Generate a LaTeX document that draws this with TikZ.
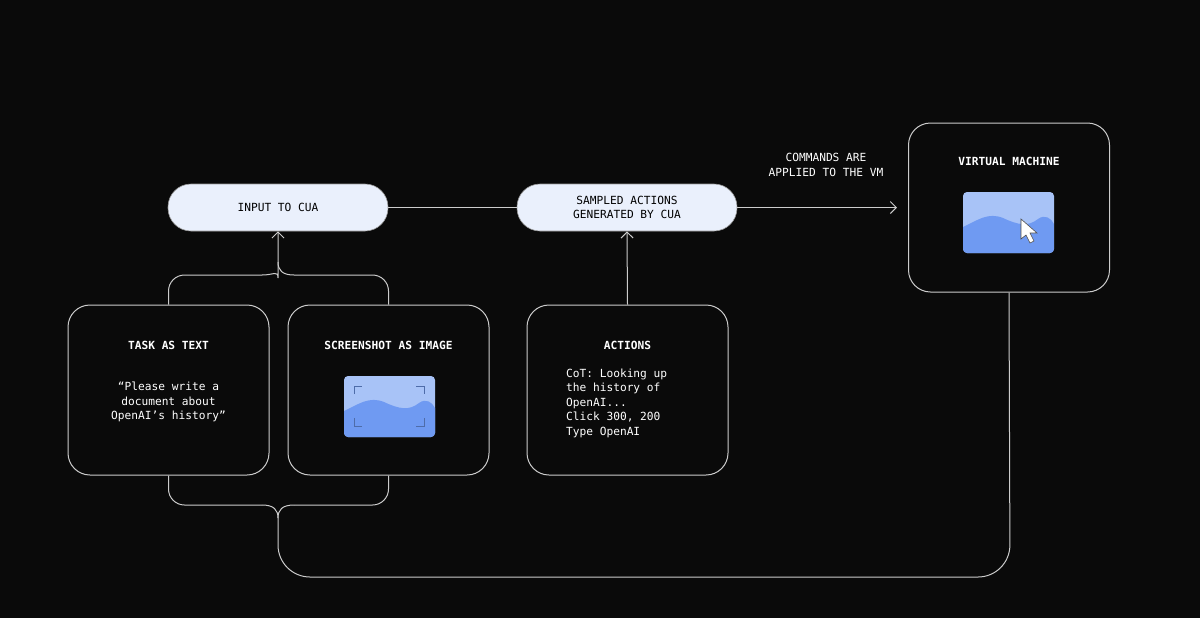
\documentclass[tikz,border=0pt]{standalone}
\usepackage{fontspec}
\setmonofont{DejaVu Sans Mono}
\usetikzlibrary{arrows.meta}
\definecolor{bg}{HTML}{0A0A0A}
\definecolor{pill}{HTML}{EAF0FC}
\definecolor{lightblue}{HTML}{A8C3F7}
\definecolor{darkblue}{HTML}{6F9AF2}
\tikzset{
  wire/.style={draw=white!80!black, line width=0.5pt, rounded corners=8pt},
  card/.style={draw=white!80!black, line width=0.5pt, rounded corners=11pt, fill=bg, minimum width=100.5pt, minimum height=85pt},
  pillbox/.style={fill=pill, draw=white!60!black, line width=0.3pt, rounded corners=11.5pt, minimum width=110pt, minimum height=23.5pt, text=black, align=center},
  txt/.style={text=white, align=center, font=\ttfamily\fontsize{5.6}{7.2}\selectfont},
  title/.style={txt, font=\ttfamily\bfseries\fontsize{5.6}{7.2}\selectfont},
}
\newcommand{\screen}[2]{%
  \begin{scope}[shift={(#1,#2)}]
    \fill[lightblue, rounded corners=2pt] (0,0) rectangle (91,61);
    \begin{scope}
      \clip[rounded corners=2pt] (0,0) rectangle (91,61);
      \fill[darkblue] (0,35) .. controls (15,28) and (25,20) .. (40,26) .. controls (55,33) and (65,35) .. (75,27) .. controls (82,22) and (88,26) .. (91,32) -- (91,61) -- (0,61) -- cycle;
    \end{scope}
  \end{scope}}
\begin{document}
\begin{tikzpicture}[x=0.5pt, y=-0.5pt, font=\ttfamily\fontsize{5.6}{7.2}\selectfont]
\fill[bg] (0,0) rectangle (1200,618);
\useasboundingbox (0,0) rectangle (1200,618);

% pills
\node[pillbox] (input) at (278,207.5) {INPUT TO CUA};
\node[pillbox] (sampled) at (627,207.5) {SAMPLED ACTIONS\\GENERATED BY CUA};

% cards
\node[card] (task) at (168.5,390) {};
\node[card] (shot) at (388.5,390) {};
\node[card] (actions) at (627.5,390) {};
\node[card, minimum height=84.5pt] (vm) at (1009,207.5) {};

\node[title] (tasktitle) at (168.5,345) {TASK AS TEXT};
\node[txt] (tasktext) at (168.5,402) {“Please write a\\document about\\OpenAI’s history”};
\node[title] (shottitle) at (388.5,345) {SCREENSHOT AS IMAGE};
\screen{344}{376}
\draw[darkblue!70!black, line width=0.4pt] (354,394) -- (354,386) -- (362,386)
  (416,386) -- (424,386) -- (424,394) (354,418) -- (354,426) -- (362,426)
  (416,426) -- (424,426) -- (424,418);
\node[title] (actionstitle) at (627.5,345) {ACTIONS};
\node[txt, align=left, anchor=north west] (actionstext) at (559,362) {CoT: Looking up\\the history of\\OpenAI...\\Click 300, 200\\Type OpenAI};
\node[title] (vmtitle) at (1009,161) {VIRTUAL MACHINE};
\screen{963}{192}
\draw[fill=white, draw=black!70, line width=0.3pt] (1021,219) -- (1021,239) -- (1026,235) -- (1030,243) -- (1034,241) -- (1030,233) -- (1037,233) -- cycle;
\node[txt] (cmdlabel) at (826,165) {COMMANDS ARE\\APPLIED TO THE VM};

% connectors
\draw[wire, rounded corners=0pt] (input.east) -- (sampled.west);
\draw[wire, rounded corners=0pt, -{Straight Barb[length=3pt]}] (sampled.east) -- (897,207.5);
\draw[wire, rounded corners=0pt, -{Straight Barb[length=3pt]}] (actions.north) -- (sampled.south);
\draw[wire] (task.north) -- (168.5,275) -- (262,275);
\draw[wire] (shot.north) -- (388.5,275) -- (294,275);
\draw[wire, -{Straight Barb[length=3pt]}] (262,275) .. controls (274,275) and (278,270) .. (278,262) -- (input.south);
\draw[wire, rounded corners=0pt] (294,275) .. controls (282,275) and (278,270) .. (278,262);
\draw[wire] (task.south) -- (168.5,505) -- (262,505);
\draw[wire] (shot.south) -- (388.5,505) -- (294,505);
\draw[wire, rounded corners=0pt] (262,505) .. controls (274,505) and (278,510) .. (278,518);
\draw[wire, rounded corners=0pt] (294,505) .. controls (282,505) and (278,510) .. (278,518);
\draw[wire, rounded corners=16pt] (278,518) -- (278,577) -- (1010,577) -- (vm.south);
\end{tikzpicture}
\end{document}
